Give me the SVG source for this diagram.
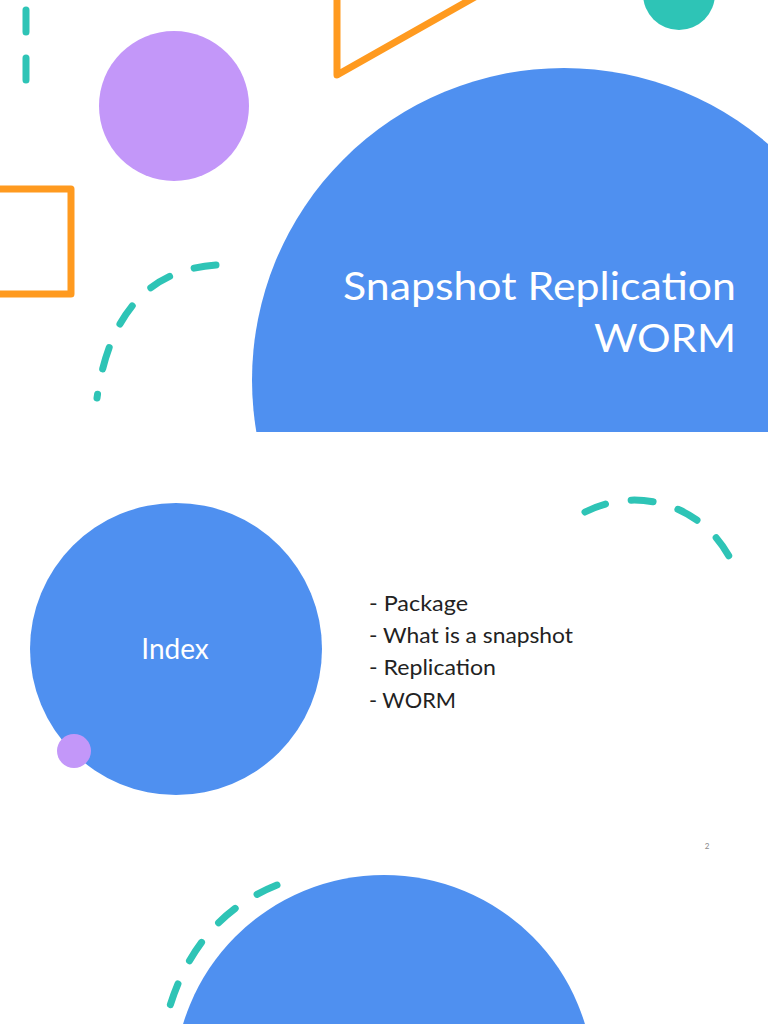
<svg xmlns="http://www.w3.org/2000/svg" width="768" height="1024" viewBox="0 0 768 1024">
<style>
.blue{fill:#4F90F0}.purple{fill:#C397F9}.teal{fill:#2EC4B6}
.dash{fill:none;stroke:#2EC4B6;stroke-width:7;stroke-linecap:round;stroke-dasharray:22 26}
.orange{fill:none;stroke:#FF9A1F;stroke-width:7;stroke-linejoin:round}
.t{font-family:"Lato","Open Sans",sans-serif}
</style>
<defs><clipPath id="c1"><rect x="0" y="0" width="768" height="432"/></clipPath></defs>
<rect width="768" height="1024" fill="#fff"/>
<g id="slide1" clip-path="url(#c1)">
<circle class="blue" cx="564" cy="380" r="312"/>
<circle class="purple" cx="174" cy="106" r="75"/>
<circle class="teal" cx="679" cy="-6" r="36"/>
<path class="orange" d="M337,-10 L337,75 L475,-3"/>
<rect class="orange" x="-20" y="189" width="91" height="105"/>
<path class="dash" d="M26,10 L26,95"/>
<path class="dash" d="M216,265 Q115,272 97,398"/>
<text class="t" x="343" y="300" font-size="39" fill="#fff" textLength="393" lengthAdjust="spacingAndGlyphs">Snapshot Replication</text>
<text class="t" x="594" y="352" font-size="39" fill="#fff" textLength="142" lengthAdjust="spacingAndGlyphs">WORM</text>
</g>
<g id="slide2">
<circle class="blue" cx="176" cy="649" r="146"/>
<circle class="purple" cx="74" cy="751" r="17"/>
<path class="dash" d="M585,512 A108,108 0 0 1 738,578"/>
<text class="t" x="175" y="659" font-size="28" fill="#fff" text-anchor="middle">Index</text>
<g class="t" font-size="21" fill="#222">
<text x="369" y="611" textLength="99" lengthAdjust="spacingAndGlyphs">- Package</text>
<text x="369" y="643" textLength="204" lengthAdjust="spacingAndGlyphs">- What is a snapshot</text>
<text x="369" y="675" textLength="127" lengthAdjust="spacingAndGlyphs">- Replication</text>
<text x="369" y="708" textLength="87" lengthAdjust="spacingAndGlyphs">- WORM</text>
</g>
<text class="t" x="707" y="849" font-size="8" fill="#888" text-anchor="middle">2</text>
</g>
<g id="slide3">
<circle class="blue" cx="384" cy="1085" r="210"/>
<path class="dash" d="M277,885 Q190,920 165,1024"/>
</g>
</svg>
